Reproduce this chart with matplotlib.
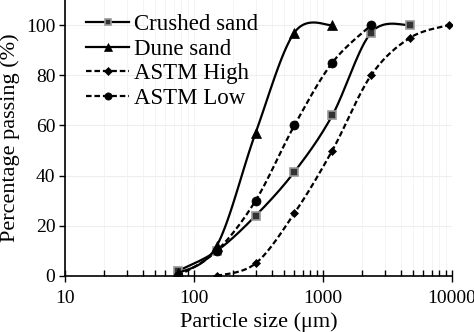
import numpy as np
import matplotlib
import matplotlib.pyplot as plt
from matplotlib.ticker import LogLocator, FixedLocator, NullFormatter

matplotlib.use('agg')

plt.rcParams['font.family'] = ['Liberation Serif', 'DejaVu Serif']

# sieve sizes (um) and percentage passing
crushed_x = [75, 150, 300, 600, 1180, 2360, 4750]
crushed_y = [2, 10, 24, 41.5, 64, 97, 100]
dune_x = [75, 150, 300, 600, 1180]
dune_y = [1, 12, 57, 97, 100]
high_x = [150, 300, 600, 1180, 2360, 4750, 9500]
high_y = [0, 5, 25, 50, 80, 95, 100]
low_x = [75, 150, 300, 600, 1180, 2360]
low_y = [0, 10, 30, 60, 85, 100]


def smooth(x, y, n=30):
    # catmull-rom style curve in log-x space, like a spreadsheet "smoothed line"
    lx = np.log10(np.asarray(x, float))
    y = np.asarray(y, float)
    px, py = [], []
    for i in range(len(lx) - 1):
        x0, y0 = (lx[i - 1], y[i - 1]) if i > 0 else (lx[i], y[i])
        x3, y3 = (lx[i + 2], y[i + 2]) if i + 2 < len(lx) else (lx[i + 1], y[i + 1])
        x1, y1, x2, y2 = lx[i], y[i], lx[i + 1], y[i + 1]
        c1 = (x1 + (x2 - x0) / 6, y1 + (y2 - y0) / 6)
        c2 = (x2 - (x3 - x1) / 6, y2 - (y3 - y1) / 6)
        t = np.linspace(0, 1, n)
        bx = (1-t)**3*x1 + 3*(1-t)**2*t*c1[0] + 3*(1-t)*t**2*c2[0] + t**3*x2
        by = (1-t)**3*y1 + 3*(1-t)**2*t*c1[1] + 3*(1-t)*t**2*c2[1] + t**3*y2
        px.extend(bx)
        py.extend(by)
    return 10**np.array(px), np.array(py)


fig = plt.figure(figsize=(4.74, 3.32), dpi=100)
ax = fig.add_axes([65/474, 56/332, 387/474, 276/332])

series = [
    (crushed_x, crushed_y, '-', 's', 'Crushed sand', 6, '#333333', '#999999', 1.2),
    (dune_x, dune_y, '-', '^', 'Dune sand', 6.5, 'black', 'black', 0.5),
    (high_x, high_y, '--', 'D', 'ASTM High', 4.5, 'black', 'black', 0.5),
    (low_x, low_y, '--', 'o', 'ASTM Low', 6.5, 'black', 'black', 0.5),
]
for x, y, ls, mk, lab, ms, mfc, mec, mew in series:
    sx, sy = smooth(x, y)
    dash = (2.5, 1.3) if ls == '--' else (None, None)
    ax.plot(sx, sy, color='black', ls=ls, lw=1.6, dashes=dash)
    ax.plot(x, y, ls='none', marker=mk, ms=ms, mfc=mfc, mec=mec, mew=mew)
    ax.plot([], [], color='black', ls=ls, lw=1.6, dashes=dash, marker=mk, ms=ms * 0.8,
            mfc=mfc, mec=mec, mew=mew, label=lab)

ax.set_xscale('log')
ax.set_xlim(10, 10000)
ax.set_ylim(0, 110)
ax.yaxis.set_major_locator(FixedLocator([0, 20, 40, 60, 80, 100]))
ax.xaxis.set_major_locator(FixedLocator([10, 100, 1000, 10000]))
ax.xaxis.set_minor_locator(LogLocator(base=10, subs=np.arange(2, 10)))
ax.xaxis.set_minor_formatter(NullFormatter())
ax.set_xticklabels(['10', '100', '1000', '10000'])

ax.grid(True, which='major', axis='y', color='#eeeeee', lw=0.8)
ax.grid(True, which='both', axis='x', color='#f3f3f3', lw=0.6)
ax.set_axisbelow(True)

for s in ['top', 'right']:
    ax.spines[s].set_visible(False)
ax.spines['left'].set_linewidth(1.2)
ax.spines['bottom'].set_linewidth(1.2)

ax.tick_params(axis='y', direction='out', length=4, width=1, labelsize=14, pad=3)
ax.tick_params(axis='x', which='major', direction='inout', length=8, width=1, labelsize=14, pad=6)
ax.tick_params(axis='x', which='minor', direction='in', length=4, width=1)

ax.set_xlabel('Particle size (\u03bcm)', fontsize=16, labelpad=4)
ax.set_ylabel('Percentage passing (%)', fontsize=16, labelpad=4)

ax.legend(loc='upper left', bbox_to_anchor=(0.03, 0.982), frameon=False, fontsize=16.5,
          handlelength=1.9, handletextpad=0.2, labelspacing=0.15, borderaxespad=0.0)

fig.savefig('out.png', dpi=100)
